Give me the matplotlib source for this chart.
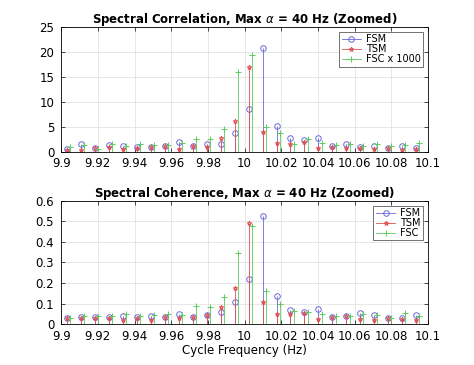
import numpy as np
import matplotlib
matplotlib.use("Agg")
import matplotlib.pyplot as plt
from matplotlib.ticker import FixedLocator
from matplotlib.lines import Line2D
from matplotlib.legend_handler import HandlerLine2D

# cycle frequencies (Hz) of the alpha bins shown
alpha = 9.9031 + 0.00762 * np.arange(26)
alpha_fsc = alpha + 0.0017

# spectral correlation
sc_fsm = [0.6, 1.5, 0.7, 1.4, 1.1, 1.0, 0.9, 1.2, 1.9, 1.1, 1.6, 1.6, 3.8, 8.6,
          20.7, 5.2, 2.7, 2.3, 2.7, 1.2, 1.5, 1.0, 1.1, 0.7, 1.2, 0.7]
sc_tsm = [0.3, 0.3, 0.7, 0.9, 0.5, 0.8, 0.9, 1.2, 0.5, 1.1, 0.9, 2.8, 6.1, 16.9,
          3.9, 1.8, 1.6, 2.0, 0.8, 1.0, 0.7, 0.7, 0.5, 0.7, 0.4, 0.5]
sc_fsc = [1.0, 1.3, 0.6, 1.5, 1.2, 1.5, 1.4, 1.3, 1.7, 2.6, 2.5, 4.6, 15.9, 19.3,
          5.0, 3.8, 1.5, 2.6, 1.8, 1.3, 1.5, 1.2, 1.5, 1.2, 1.3, 1.7]

# spectral coherence
coh_fsm = [0.028, 0.037, 0.036, 0.036, 0.040, 0.035, 0.040, 0.035, 0.050, 0.033,
           0.043, 0.057, 0.107, 0.220, 0.525, 0.137, 0.070, 0.060, 0.075, 0.034,
           0.040, 0.055, 0.042, 0.028, 0.032, 0.042]
coh_tsm = [0.028, 0.030, 0.030, 0.030, 0.020, 0.030, 0.020, 0.035, 0.030, 0.033,
           0.045, 0.085, 0.175, 0.490, 0.110, 0.050, 0.050, 0.055, 0.025, 0.035,
           0.040, 0.025, 0.018, 0.028, 0.025, 0.018]
coh_fsc = [0.030, 0.038, 0.040, 0.040, 0.048, 0.040, 0.042, 0.050, 0.045, 0.090,
           0.085, 0.133, 0.345, 0.475, 0.160, 0.100, 0.065, 0.060, 0.050, 0.040,
           0.040, 0.050, 0.045, 0.030, 0.055, 0.040]

xticks = [9.9, 9.92, 9.94, 9.96, 9.98, 10.0, 10.02, 10.04, 10.06, 10.08, 10.1]
xticklabels = ["9.9", "9.92", "9.94", "9.96", "9.98", "10", "10.02", "10.04",
               "10.06", "10.08", "10.1"]

c_blue = "#6a6ad8"
c_red = "#e05050"
c_green = "#5ccc5c"

styles = [("o", c_blue, 4), ("*", c_red, 3.5), ("+", c_green, 4)]


class RightMarker(HandlerLine2D):
    # MATLAB-style stem legend entry: line with one marker near its right end
    def get_xdata(self, legend, xdescent, ydescent, width, height, fontsize):
        xdata = np.array([-xdescent, -xdescent + width])
        return xdata, np.array([-xdescent + width * 0.85])


def stems(ax, x, y, color, marker, ms):
    m, s, b = ax.stem(x, y, basefmt=" ")
    plt.setp(s, color=color, linewidth=0.6)
    plt.setp(m, color=color, marker=marker, markersize=ms,
             markerfacecolor="none", markeredgewidth=0.7)


fig = plt.figure(figsize=(4.74, 3.65), dpi=100)
ax1 = fig.add_axes([0.129, 0.584, 0.774, 0.342])
ax2 = fig.add_axes([0.129, 0.112, 0.774, 0.338])

panels = [
    (ax1, [sc_fsm, sc_tsm, sc_fsc], ["FSM", "TSM", "FSC x 1000"],
     r"Spectral Correlation, Max $\alpha$ = 40 Hz (Zoomed)", 25, [0, 5, 10, 15, 20, 25]),
    (ax2, [coh_fsm, coh_tsm, coh_fsc], ["FSM", "TSM", "FSC"],
     r"Spectral Coherence, Max $\alpha$ = 40 Hz (Zoomed)", 0.6, [0, 0.1, 0.2, 0.3, 0.4, 0.5, 0.6]),
]

for ax, series, labels, title, ymax, yt in panels:
    xs = [alpha, alpha, alpha_fsc]
    handles = []
    for x, y, (mk, col, ms) in zip(xs, series, styles):
        stems(ax, x, y, col, mk, ms)
        handles.append(Line2D([], [], color=col, linewidth=0.6, marker=mk,
                              markersize=ms, markerfacecolor="none",
                              markeredgewidth=0.7))
    ax.set_xlim(9.9, 10.1)
    ax.set_ylim(0, ymax)
    ax.xaxis.set_major_locator(FixedLocator(xticks))
    ax.set_xticklabels(xticklabels)
    ax.set_yticks(yt)
    ax.set_yticklabels([("%g" % v) for v in yt])
    ax.grid(True, color="#e3e3e3", linewidth=0.6)
    ax.set_axisbelow(True)
    ax.tick_params(direction="in", top=True, right=True, labelsize=8.5,
                   length=3, width=0.5)
    ax.tick_params(axis="x", pad=4)
    ax.tick_params(axis="y", pad=5)
    for sp in ax.spines.values():
        sp.set_linewidth(0.6)
    ax.set_title(title, fontsize=8.5, fontweight="bold", pad=3)
    leg = ax.legend(handles, labels, loc="upper right", fontsize=7,
                    frameon=True, fancybox=False, edgecolor="#333333",
                    borderpad=0.25, handlelength=2.0, handletextpad=0.5,
                    labelspacing=0.0, borderaxespad=0.5,
                    handler_map={Line2D: RightMarker()})
    leg.get_frame().set_linewidth(0.6)

ax2.set_xlabel("Cycle Frequency (Hz)", fontsize=8.5, labelpad=1)

fig.savefig("out.png", dpi=100)
